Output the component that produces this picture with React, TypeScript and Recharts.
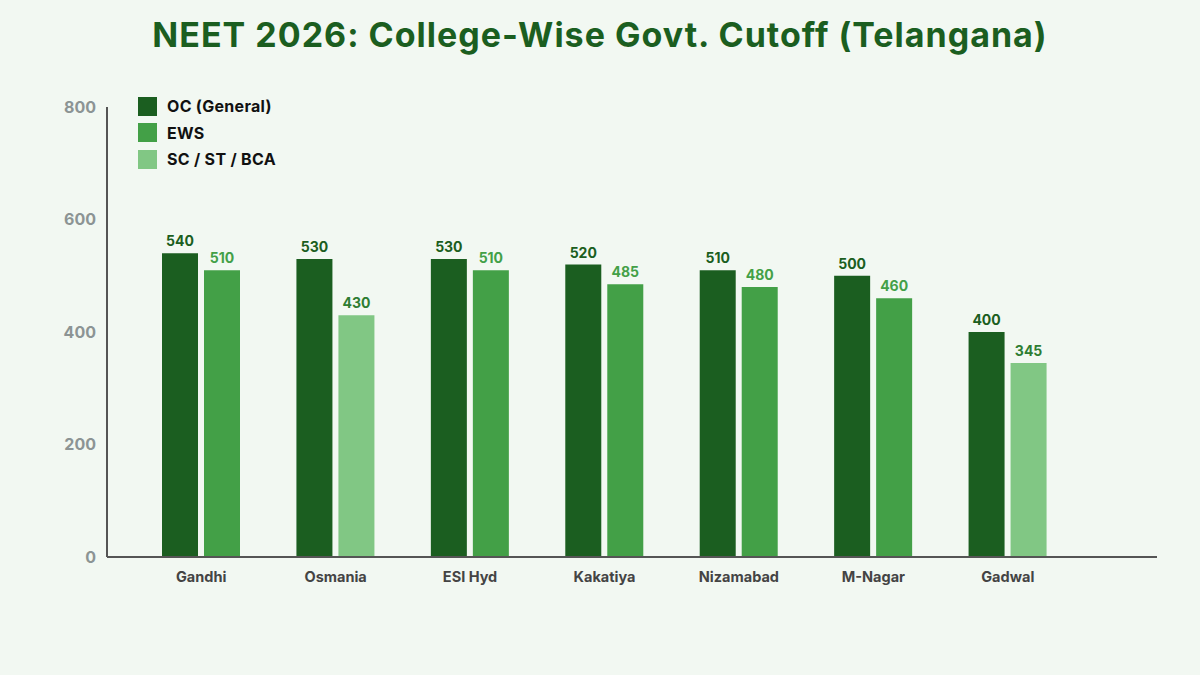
import React from 'react';
import { BarChart, Bar, XAxis, YAxis, Legend, LabelList } from 'recharts';

const categories = ['Gandhi', 'Osmania', 'ESI Hyd', 'Kakatiya', 'Nizamabad', 'M-Nagar', 'Gadwal'];
const ocValues = [540, 530, 530, 520, 510, 500, 400];
const ewsValues: (number | null)[] = [510, null, 510, 485, 480, 460, null];
const scValues: (number | null)[] = [null, 430, null, null, null, null, 345];
const yTicks = [0, 200, 400, 600, 800];

const seriesNames = ['OC (General)', 'EWS', 'SC / ST / BCA'];
const COLORS = ['#1b5e20', '#43a047', '#81c784'];
const LABEL_COLORS = ['#1b5e20', '#43a047', '#2e7d32'];
const FONT = 'Inter, "Liberation Sans", sans-serif';

const data = categories.map((c, i) => ({
  name: c,
  oc: ocValues[i],
  ews: ewsValues[i],
  sc: scValues[i],
}));

const makeLabel = (color: string) => (props: any) => {
  const { x, y, width, value } = props;
  if (value === null || value === undefined) return null;
  return (
    <text
      x={Number(x) + Number(width) / 2}
      y={Number(y) - 7}
      textAnchor="middle"
      fill={color}
      fontFamily={FONT}
      fontWeight={700}
      fontSize={14}
    >
      {value}
    </text>
  );
};

const LegendContent = () => (
  <div style={{ fontFamily: FONT }}>
    {seriesNames.map((n, i) => (
      <div key={n} style={{ display: 'flex', alignItems: 'center', height: 26.5 }}>
        <div style={{ width: 19, height: 19, background: COLORS[i], marginRight: 10 }} />
        <span style={{ fontSize: 16, fontWeight: 700, color: '#111', letterSpacing: 0.3 }}>{n}</span>
      </div>
    ))}
  </div>
);

export default function App() {
  return (
    <div style={{ position: 'absolute', left: 0, top: 0, width: 1200, height: 675, background: '#f2f8f2' }}>
      <style>{`body{margin:0}`}</style>
      <div
        style={{
          position: 'absolute',
          left: 0,
          top: 14,
          width: 1200,
          textAlign: 'center',
          fontFamily: FONT,
          fontWeight: 700,
          fontSize: 34,
          color: '#1b5e20',
          letterSpacing: 1,
        }}
      >
        NEET 2026: College-Wise Govt. Cutoff (Telangana)
      </div>
      <BarChart
        width={1200}
        height={675}
        data={data}
        margin={{ top: 107, right: 43, left: 47, bottom: 78 }}
        barGap={6}
        barSize={36}
      >
        <XAxis
          dataKey="name"
          axisLine={{ stroke: '#555', strokeWidth: 2 }}
          tickLine={false}
          tickSize={0}
          tickMargin={15}
          height={40}
          padding={{ left: 27, right: 82 }}
          tick={{ fill: '#444', fontSize: 14.5, fontWeight: 700, fontFamily: FONT }}
        />
        <YAxis
          domain={[0, 800]}
          ticks={yTicks}
          width={60}
          axisLine={{ stroke: '#555', strokeWidth: 2 }}
          tickLine={false}
          tickSize={0}
          tickMargin={11}
          tick={{ fill: '#8c9494', fontSize: 16, fontWeight: 700, fontFamily: FONT }}
        />
        <Legend
          layout="vertical"
          align="center"
          verticalAlign="middle"
          wrapperStyle={{ left: 138, top: 93, width: 200 }}
          content={<LegendContent />}
        />
        <Bar dataKey="oc" name={seriesNames[0]} stackId="a" fill={COLORS[0]} isAnimationActive={false}>
          <LabelList dataKey="oc" content={makeLabel(LABEL_COLORS[0])} />
        </Bar>
        <Bar dataKey="ews" name={seriesNames[1]} stackId="b" fill={COLORS[1]} isAnimationActive={false}>
          <LabelList dataKey="ews" content={makeLabel(LABEL_COLORS[1])} />
        </Bar>
        <Bar dataKey="sc" name={seriesNames[2]} stackId="b" fill={COLORS[2]} isAnimationActive={false}>
          <LabelList dataKey="sc" content={makeLabel(LABEL_COLORS[2])} />
        </Bar>
      </BarChart>
    </div>
  );
}
